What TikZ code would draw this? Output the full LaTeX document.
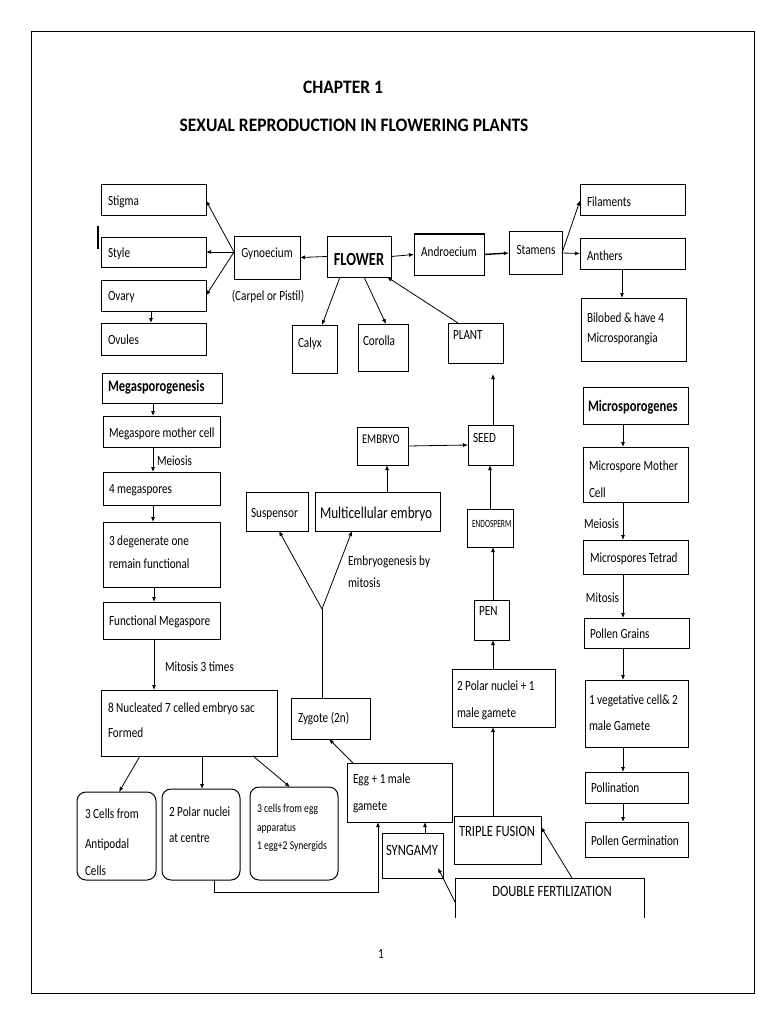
\documentclass[tikz,border=0pt]{standalone}
\usepackage{fontspec}
\setmainfont{Carlito}[FakeStretch=0.8]
\newfontfamily\condf{Carlito}[FakeStretch=0.78]
\newfontfamily\vcondf{Carlito}[FakeStretch=0.68]
\newfontfamily\titlef{Carlito}[FakeStretch=0.92]
\usetikzlibrary{arrows.meta,calc}
\tikzset{
  bx/.style={draw=black, line width=1pt, inner sep=0pt, outer sep=0pt},
  rbx/.style={bx, rounded corners=9pt},
  nobx/.style={inner sep=0pt, outer sep=0pt},
  t/.style={inner sep=0pt, outer sep=0pt, anchor=base west, font=\fontsize{14}{16}\selectfont},
  tc/.style={t, anchor=base},
  tbig/.style={t, font=\fontsize{16.5}{19}\selectfont},
  tlarge/.style={t, font=\fontsize{15.7}{18}\selectfont},
  tsmall/.style={t, font=\fontsize{12}{14}\selectfont},
  tb/.style={t, font=\condf\bfseries\fontsize{16}{19}\selectfont},
  ttl/.style={inner sep=0pt, anchor=base, font=\titlef\bfseries\fontsize{19}{22}\selectfont},
  arr/.style={draw=black, line width=0.8pt, -{Latex[length=5pt,width=4pt]}},
  thickarr/.style={arr, line width=1.4pt},
  ln/.style={draw=black, line width=0.8pt},
}
\newcommand{\bx}[6][]{\node[bx,#1,minimum width={(#5)-(#3)},minimum height={(#6)-(#4)}] (#2) at ({(#3+#5)/2},{(#4+#6)/2}) {};}
\begin{document}
\begin{tikzpicture}[x=1pt,y=-1pt]
\useasboundingbox (0,0) rectangle (768,1024);
\fill[white] (0,0) rectangle (768,1024);
\draw[line width=1pt] (31,32) rectangle (754,993);

% titles
\node[ttl] (chap) at (343,94) {CHAPTER 1};
\node[ttl] (title) at (354,132) {SEXUAL REPRODUCTION IN FLOWERING PLANTS};

% ---------- top row ----------
\bx{stigma}{101}{185}{206}{216}
\bx{style}{101}{237}{206}{267}
\bx{ovary}{101}{280}{206}{311}
\bx{ovules}{101}{323}{206}{355}
\draw[line width=1.6pt] (98,226) -- (98,249);
\node[t] (tstigma) at (108,206) {Stigma};
\node[t] (tstyle) at (108,257) {Style};
\node[t] (tovary) at (108,300) {Ovary};
\node[t] (tovules) at (108,344) {Ovules};

\bx{gyn}{234}{236}{300}{279}
\node[tc] (tgyn) at (267,258) {Gynoecium};
\node[tc] (tcarpel) at (268,300) {(Carpel or Pistil)};

\bx{flower}{327}{236}{391}{277}
\node[tb, anchor=base, font=\condf\bfseries\fontsize{18.5}{20}\selectfont] (tflower) at (359,265) {FLOWER};

\bx{andro}{414}{234}{484}{275}
\node[tc] (tandro) at (449,256) {Androecium};
\bx{stamens}{509}{232}{562}{274}
\node[tc] (tstamens) at (536,254) {Stamens};
\bx{filaments}{580}{185}{685}{216}
\node[t] (tfil) at (587,207) {Filaments};
\bx{anthers}{580}{238}{685}{269}
\node[t] (tanth) at (587,260) {Anthers};
\bx{bilobed}{581}{298}{686}{361}
\node[t] (tbil1) at (587,322) {Bilobed \& have 4};
\node[t] (tbil2) at (587,342) {Microsporangia};

\bx{calyx}{292}{325}{337}{373}
\node[t] (tcalyx) at (298,347) {Calyx};
\bx{corolla}{358}{324}{408}{371}
\node[t] (tcorolla) at (363,345) {Corolla};
\bx{plant}{448}{323}{503}{363}
\node[t] (tplant) at (453,339) {PLANT};

% arrows top
\coordinate (gynw) at (gyn.west |- style.east);
\draw[arr] (gynw) -- (stigma.east);
\draw[arr] (gynw) -- (style.east);
\draw[arr] (gynw) -- (ovary.east);
\draw[arr] (151,0 |- ovary.south) -- (151,0 |- ovules.north);
\draw[arr] (flower.west) -- (gyn.east);
\draw[arr] (flower.east) -- (andro.west);
\draw[thickarr] (andro.east) -- (stamens.west);
\draw[arr] (stamens.east) -- (filaments.west);
\draw[arr] (stamens.east) -- (anthers.west);
\draw[arr] (622,0 |- anthers.south) -- (622,0 |- bilobed.north);
\draw[arr] (340,0 |- flower.south) -- (322,0 |- calyx.north);
\draw[arr] (364,0 |- flower.south) -- (386,0 |- corolla.north);
\draw[arr] (458,0 |- plant.north) -- ([xshift=-4pt]flower.south east);

% ---------- megasporogenesis column ----------
\bx{mega}{102}{373}{222}{403}
\node[tb] (tmega) at (108,391) {Megasporogenesis};
\bx{mmc}{103}{416}{220}{447}
\node[t] (tmmc) at (109,437) {Megaspore mother cell};
\node[t] (tmei) at (157,465) {Meiosis};
\bx{m4}{103}{472}{220}{505}
\node[t] (tm4) at (109,493) {4 megaspores};
\bx{deg}{103}{522}{220}{587}
\node[t] (tdeg1) at (109,545) {3 degenerate one};
\node[t] (tdeg2) at (109,568) {remain functional};
\bx{func}{103}{602}{220}{639}
\node[t] (tfunc) at (109,625) {Functional Megaspore};
\node[t] (tmit3) at (165,671) {Mitosis 3 times};
\bx{nuc8}{101}{690}{277}{756}
\node[t] (tnuc1) at (108,712) {8 Nucleated 7 celled embryo sac};
\node[t] (tnuc2) at (108,737) {Formed};

\draw[arr] (153,0 |- mega.south) -- (153,0 |- mmc.north);
\draw[arr] (153,0 |- mmc.south) -- (153,0 |- m4.north);
\draw[arr] (153,0 |- m4.south) -- (153,0 |- deg.north);
\draw[arr] (154,0 |- deg.south) -- (154,0 |- func.north);
\draw[arr] (154,0 |- func.south) -- (154,0 |- nuc8.north);

\bx[rbx]{anti}{77}{792}{156}{880}
\node[t] (tanti1) at (85,818) {3 Cells from};
\node[t] (tanti2) at (85,848) {Antipodal};
\node[t] (tanti3) at (85,875) {Cells};
\bx[rbx]{polar}{162}{789}{240}{880}
\node[t] (tpol1) at (169,816) {2 Polar nuclei};
\node[t] (tpol2) at (169,842) {at centre};
\bx[rbx]{eggapp}{250}{787}{338}{880}
\node[tsmall] (tea1) at (257,812) {3 cells from egg};
\node[tsmall] (tea2) at (257,831) {apparatus};
\node[tsmall] (tea3) at (257,849) {1 egg+2 Synergids};

\draw[arr] (140,0 |- nuc8.south) -- (119,0 |- anti.north);
\draw[arr] (202,0 |- nuc8.south) -- (202,0 |- polar.north);
\draw[arr] (253,0 |- nuc8.south) -- (290,0 |- eggapp.north);

% ---------- centre ----------
\bx{zygote}{291}{698}{370}{739}
\node[t] (tzyg) at (298,722) {Zygote (2n)};
\bx{susp}{246}{492}{308}{531}
\node[t] (tsusp) at (251,517) {Suspensor};
\bx{multi}{315}{492}{440}{531}
\node[tbig] (tmulti) at (320,518) {Multicellular embryo};
\node[t] (temb1) at (348,565) {Embryogenesis by};
\node[t] (temb2) at (348,587) {mitosis};
\coordinate (vj) at (322,609);
\draw[ln] (322,0 |- zygote.north) -- (vj);
\draw[arr] (vj) -- (279,0 |- susp.south);
\draw[arr] (vj) -- (352,0 |- multi.south);

\bx{embryo}{357}{427}{408}{465}
\node[t, font=\fontsize{13.3}{15}\selectfont] (temb) at (362,443) {EMBRYO};
\bx{seed}{468}{425}{513}{465}
\node[t] (tseed) at (473,442) {SEED};
\bx{endo}{467}{509}{513}{547}
\node[t, font=\vcondf\fontsize{11}{13}\selectfont] (tendo) at (472,527) {ENDOSPERM};
\bx{pen}{474}{600}{509}{640}
\node[t] (tpen) at (479,615) {PEN};
\bx{pol2}{452}{669}{555}{727}
\node[t] (tp21) at (457,690) {2 Polar nuclei + 1};
\node[t] (tp22) at (457,717) {male gamete};
\bx{egg}{347}{763}{452}{822}
\node[t] (tegg1) at (353,783) {Egg + 1 male};
\node[t] (tegg2) at (353,810) {gamete};
\bx{syngamy}{382}{833}{443}{878}
\node[tlarge] (tsyn) at (386,855) {SYNGAMY};
\bx{triple}{454}{816}{541}{864}
\node[tlarge] (ttri) at (459,836) {TRIPLE FUSION};
\node[nobx, minimum width=189, minimum height=40] (df) at (549.5,898) {};
\draw[line width=1pt] (df.south west) -- (df.north west) -- (df.north east) -- (df.south east);
\node[tlarge, anchor=base] (tdf) at (552,896) {DOUBLE FERTILIZATION};

\draw[arr] (multi.north -| 387,0) -- (embryo.south -| 387,0);
\draw[arr] (embryo.east) -- (seed.west);
\draw[arr] (490,0 |- endo.north) -- (490,0 |- seed.south);
\draw[arr] (493,0 |- pen.north) -- (493,0 |- endo.south);
\draw[arr] (493,0 |- pol2.north) -- (493,0 |- pen.south);
\draw[arr] (493,0 |- triple.north) -- (493,0 |- pol2.south);
\draw[arr, shorten >=11pt] (493,0 |- seed.north) -- (493,0 |- plant.south);
\draw[arr] (353,0 |- egg.north) -- ([xshift=-4pt]333,0 |- zygote.south);
\draw[arr] (425,0 |- syngamy.north) -- (425,0 |- egg.south);
\draw[arr] (214,0 |- polar.south) -- ++(0,12) -| (378,0 |- egg.south);
\draw[arr] (df.west |- 0,902) -- ([xshift=-5pt,yshift=10pt]syngamy.south east);
\draw[arr] (572,0 |- df.north) -- ([yshift=13pt]triple.east);

% ---------- microsporogenesis column ----------
\bx{micro}{583}{387}{688}{424}
\node[tb] (tmicro) at (588,411) {Microsporogenes};
\bx{mmc2}{583}{447}{688}{502}
\node[t] (tmm1) at (589,470) {Microspore Mother};
\node[t] (tmm2) at (589,497) {Cell};
\node[t, anchor=base east] (tmei2) at (619,528) {Meiosis};
\bx{tetrad}{583}{540}{688}{574}
\node[t] (ttet) at (590,562) {Microspores Tetrad};
\node[t, anchor=base east] (tmit) at (619,602) {Mitosis};
\bx{pollen}{584}{618}{689}{648}
\node[t] (tpg) at (590,638) {Pollen Grains};
\bx{veg}{585}{680}{688}{747}
\node[t] (tveg1) at (589,704) {1 vegetative cell\& 2};
\node[t] (tveg2) at (589,730) {male Gamete};
\bx{polli}{585}{772}{688}{803}
\node[t] (tpoll) at (591,792) {Pollination};
\bx{germ}{585}{822}{688}{857}
\node[t] (tgerm) at (591,845) {Pollen Germination};

\draw[arr] (623,0 |- micro.south) -- (623,0 |- mmc2.north);
\draw[arr] (623,0 |- mmc2.south) -- (623,0 |- tetrad.north);
\draw[arr] (623,0 |- tetrad.south) -- (623,0 |- pollen.north);
\draw[arr] (623,0 |- pollen.south) -- (623,0 |- veg.north);
\draw[arr] (623,0 |- veg.south) -- (623,0 |- polli.north);
\draw[arr] (623,0 |- polli.south) -- (623,0 |- germ.north);

% page number
\node[t, anchor=base] (pnum) at (381,958) {1};
\end{tikzpicture}
\end{document}
